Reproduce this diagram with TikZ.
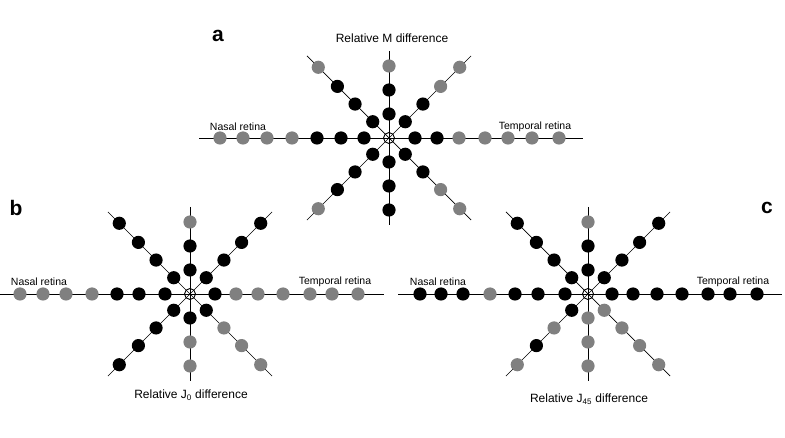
\documentclass[tikz,border=0pt]{standalone}
\usepackage{fontspec}
\setmainfont{Liberation Sans}
\colorlet{colB}{black}
\definecolor{colG}{HTML}{808080}
\newcommand\myarm[2]{\foreach \d/\c in {#2} {\fill[col\c] (#1:\d) circle (6.6);}}
\newcommand\myaxes{%
  \draw[axis] (-190,0) -- (194,0);
  \draw[axis] (0,-87) -- (0,87);
  \draw[axis] (225:116) -- (45:116);
  \draw[axis] (135:116) -- (315:116);
  \draw[line width=0.9pt] (0,0) circle (5.5);}
\begin{document}
\begin{tikzpicture}[x=1pt,y=-1pt,
  axis/.style={line width=0.7pt},
  lbl/.style={font=\fontsize{10.5}{12}\selectfont, inner sep=0},
  ttl/.style={font=\fontsize{12}{14}\selectfont, inner sep=0},
  pl/.style={font=\fontsize{21}{24}\selectfont\bfseries, inner sep=0}]
\useasboundingbox (0,0) rectangle (785,438);
% panel a
\begin{scope}[shift={(389,138)}]
  \coordinate (ca) at (0,0);
  \myaxes
  \myarm{180}{25/B,48/B,72/B,97/G,122/G,146/G,169/G}
  \myarm{0}{26/B,48/B,70/G,96/G,119/G,143/G,170/G}
  \myarm{270}{24/B,48/B,72/G}
  \myarm{90}{24/B,48/B,72/B}
  \myarm{225}{23/B,48/B,73/B,100/G}
  \myarm{315}{23/B,48/B,73/G,100/G}
  \myarm{135}{23/B,48/B,73/B,100/G}
  \myarm{45}{23/B,48/B,73/G,100/G}
\end{scope}
\node[pl] (la) at (218,36) {a};
\node[ttl] (ta) at (392,38) {Relative M difference};
\node[lbl] (na) at (238,127) {Nasal retina};
\node[lbl] (tpa) at (535,127) {Temporal retina};
% panel b
\begin{scope}[shift={(190,294)}]
  \coordinate (cb) at (0,0);
  \myaxes
  \myarm{180}{25/B,51/B,73/B,98/G,124/G,147/G,170/G}
  \myarm{0}{25/B,46/G,68/G,93/G,120/G,142/G,168/G}
  \myarm{270}{24/B,48/B,72/G}
  \myarm{90}{24/B,48/G,72/G}
  \myarm{225}{23/B,48/B,73/B,100/B}
  \myarm{315}{23/B,48/B,73/B,100/B}
  \myarm{135}{23/B,48/B,73/B,100/B}
  \myarm{45}{23/B,48/G,73/G,100/G}
\end{scope}
\node[pl] (lb) at (16,208) {b};
\node[ttl] (tb) at (191,395) {Relative J\textsubscript{0} difference};
\node[lbl] (nb) at (39,282) {Nasal retina};
\node[lbl] (tpb) at (335,282) {Temporal retina};
% panel c
\begin{scope}[shift={(588,294)}]
  \coordinate (cc) at (0,0);
  \myaxes
  \myarm{180}{23/B,50/B,73/B,98/G,125/B,147/B,168/B}
  \myarm{0}{24/B,45/B,69/B,94/B,120/B,142/B,169/B}
  \myarm{270}{24/B,48/B,72/G}
  \myarm{90}{24/G,48/G,72/G}
  \myarm{225}{23/B,48/B,73/B,100/B}
  \myarm{315}{23/B,48/B,73/B,100/B}
  \myarm{135}{23/B,48/G,73/B,100/G}
  \myarm{45}{23/G,48/G,73/G,100/G}
\end{scope}
\node[pl] (lc) at (767,208) {c};
\node[ttl] (tc) at (589,399) {Relative J\textsubscript{45} difference};
\node[lbl] (nc) at (438,282) {Nasal retina};
\node[lbl] (tpc) at (733,282) {Temporal retina};
\end{tikzpicture}
\end{document}
